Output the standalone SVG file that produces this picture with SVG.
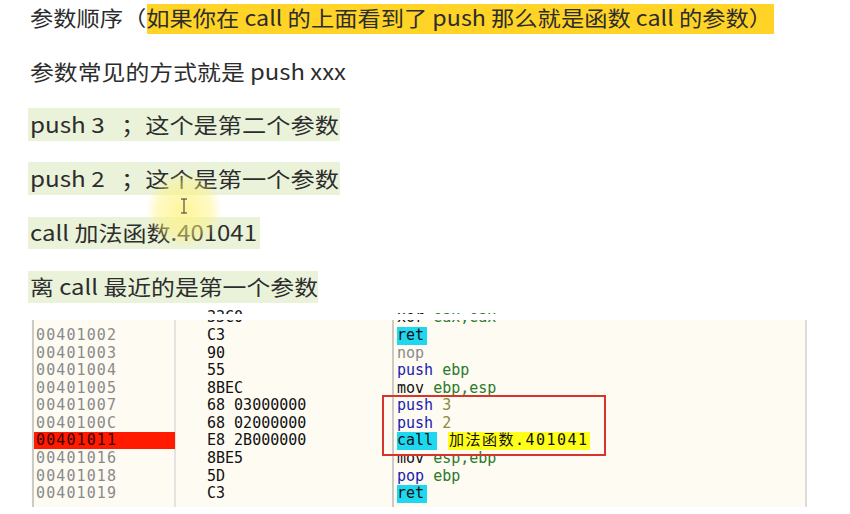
<svg xmlns="http://www.w3.org/2000/svg" width="850" height="514" viewBox="0 0 850 514">
<defs>
<radialGradient id="glow"><stop offset="0" stop-color="#fff27a" stop-opacity="0.75"/><stop offset="0.7" stop-color="#fff27a" stop-opacity="0.45"/><stop offset="1" stop-color="#fff27a" stop-opacity="0"/></radialGradient>
<style>
.t{font-family:"Noto Sans CJK SC","Noto Sans",sans-serif;font-size:21px;fill:#2d2d2d;white-space:pre}
.g{fill:#eaf3d9}
.m{font-family:"DejaVu Sans Mono",monospace;font-size:15px}
.a{fill:#8a8a8a}
.b{fill:#111}
.k{fill:#1a1ab0}
.r{fill:#2a7a2a}
.n{fill:#8a8a3a}
.cy{fill:#1ed8f0}
</style>
</defs>
<rect width="850" height="514" fill="#fff"/>
<g id="notes">
<rect x="147" y="4" width="627" height="30" fill="#ffd426"/>
<text class="t" x="30" y="26" textLength="742" lengthAdjust="spacingAndGlyphs">参数顺序（如果你在 call 的上面看到了 push 那么就是函数 call 的参数）</text>
<text class="t" x="30" y="80" textLength="316" lengthAdjust="spacingAndGlyphs">参数常见的方式就是 push xxx</text>
<rect class="g" x="28" y="108" width="312" height="33"/>
<text class="t" x="30" y="133" textLength="309" lengthAdjust="spacingAndGlyphs" xml:space="preserve">push 3   ；这个是第二个参数</text>
<rect class="g" x="28" y="162" width="312" height="33"/>
<text class="t" x="30" y="187" textLength="309" lengthAdjust="spacingAndGlyphs" xml:space="preserve">push 2   ；这个是第一个参数</text>
<rect class="g" x="28" y="217" width="232" height="32"/>
<text class="t" x="30" y="241" textLength="227" lengthAdjust="spacingAndGlyphs">call 加法函数.401041</text>
<rect class="g" x="28" y="271" width="290" height="32"/>
<text class="t" x="30" y="295" textLength="288" lengthAdjust="spacingAndGlyphs">离 call 最近的是第一个参数</text>
<circle cx="184" cy="210" r="38" fill="url(#glow)"/>
<path d="M181 199h6M184 199v14M181 213h6" stroke="#333" stroke-width="1" fill="none"/>
</g>
<g id="disasm">
<rect x="31" y="320" width="776" height="187" fill="#fdfbf2"/>
<line x1="33" y1="320" x2="33" y2="507" stroke="#999"/>
<line x1="175" y1="320" x2="175" y2="507" stroke="#ccc"/>
<line x1="393" y1="320" x2="393" y2="507" stroke="#999"/>
<line x1="806" y1="320" x2="806" y2="507" stroke="#bbb"/>
<rect x="34" y="432" width="141" height="17" fill="#ff1a00"/>
<g class="m">
<text class="b" x="207" y="322">33C0</text><text x="397" y="322"><tspan class="b">xor </tspan><tspan class="r">eax,eax</tspan></text>
<text class="a" x="36" y="340" textLength="80">00401002</text><text class="b" x="207" y="340">C3</text>
<text class="a" x="36" y="358" textLength="80">00401003</text><text class="b" x="207" y="358">90</text>
<text class="a" x="36" y="375" textLength="80">00401004</text><text class="b" x="207" y="375">55</text>
<text class="a" x="36" y="393" textLength="80">00401005</text><text class="b" x="207" y="393">8BEC</text>
<text class="a" x="36" y="410" textLength="80">00401007</text><text class="b" x="207" y="410">68 03000000</text>
<text class="a" x="36" y="428" textLength="80">0040100C</text><text class="b" x="207" y="428">68 02000000</text>
<text x="36" y="445" fill="#3a0000" textLength="80">00401011</text><text class="b" x="207" y="445">E8 2B000000</text>
<text class="a" x="36" y="463" textLength="80">00401016</text><text class="b" x="207" y="463">8BE5</text>
<text class="a" x="36" y="481" textLength="80">00401018</text><text class="b" x="207" y="481">5D</text>
<text class="a" x="36" y="498" textLength="80">00401019</text><text class="b" x="207" y="498">C3</text>
<rect class="cy" x="397" y="327" width="30" height="18"/>
<text class="b" x="397" y="340">ret</text>
<text class="a" x="397" y="358">nop</text>
<text x="397" y="375"><tspan class="k">push </tspan><tspan class="r">ebp</tspan></text>
<text x="397" y="393"><tspan class="b">mov </tspan><tspan class="r">ebp,esp</tspan></text>
<text x="397" y="410"><tspan class="k">push </tspan><tspan class="n">3</tspan></text>
<text x="397" y="428"><tspan class="k">push </tspan><tspan class="n">2</tspan></text>
<rect class="cy" x="397" y="432" width="40" height="18"/>
<rect x="448" y="432" width="142" height="18" fill="#ffff1a"/>
<text class="b" x="397" y="445">call</text>
<text class="b" x="449" y="445" textLength="138"><tspan font-family="Noto Sans CJK SC,serif" font-size="15">加法函数</tspan>.401041</text>
<text x="397" y="463"><tspan class="b">mov </tspan><tspan class="r">esp,ebp</tspan></text>
<text x="397" y="481"><tspan class="k">pop </tspan><tspan class="r">ebp</tspan></text>
<rect class="cy" x="397" y="485" width="30" height="18"/>
<text class="b" x="397" y="498">ret</text>
</g>
<rect x="383" y="396" width="222" height="59" fill="none" stroke="#d9342b" stroke-width="2"/>
<rect x="31" y="507" width="780" height="7" fill="#fff"/>
<rect x="31" y="314" width="780" height="6" fill="#fff"/>
</g>
</svg>
